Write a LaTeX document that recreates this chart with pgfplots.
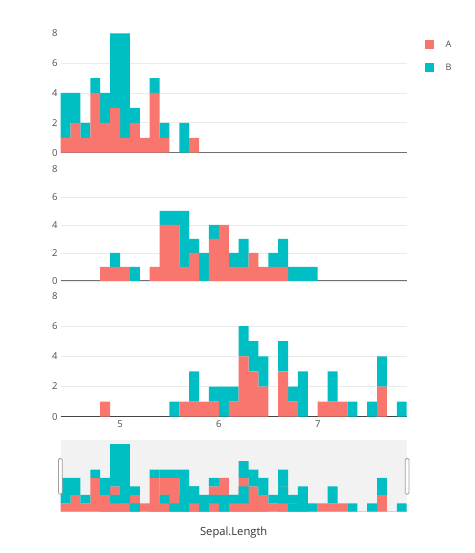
\documentclass[border=0pt]{standalone}
\usepackage{pgfplots}
\pgfplotsset{compat=1.18}
\usepackage{pgfplotstable}
\usepackage{fontspec}
\setmainfont{Open Sans}
\definecolor{cA}{HTML}{F8766D}
\definecolor{cB}{HTML}{00BFC4}
\definecolor{tickc}{HTML}{4D4D4D}
\definecolor{titlec}{HTML}{333333}
\definecolor{gridc}{HTML}{EBEBEB}
\definecolor{zeroc}{HTML}{707070}
\definecolor{zeroc3}{HTML}{444444}
\definecolor{sliderbg}{HTML}{F2F2F2}
\definecolor{handlec}{HTML}{A0A0A0}

\pgfplotstableread{
x    A1 B1 A2 B2 A3 B3
4.45 1 3 0 0 0 0
4.55 2 2 0 0 0 0
4.65 1 1 0 0 0 0
4.75 4 1 0 0 0 0
4.85 2 2 1 0 1 0
4.95 3 5 1 1 0 0
5.05 1 7 1 0 0 0
5.15 2 1 0 1 0 0
5.25 1 0 0 0 0 0
5.35 4 1 1 0 0 0
5.45 1 1 4 1 0 0
5.55 0 0 4 1 0 1
5.65 0 2 1 4 1 0
5.75 1 0 2 1 1 2
5.85 0 0 0 2 1 0
5.95 0 0 3 1 1 1
6.05 0 0 4 0 0 2
6.15 0 0 1 1 1 1
6.25 0 0 1 2 4 2
6.35 0 0 2 0 3 2
6.45 0 0 1 0 2 2
6.55 0 0 1 1 0 0
6.65 0 0 1 2 3 2
6.75 0 0 0 1 1 1
6.85 0 0 0 1 0 3
6.95 0 0 0 1 0 0
7.05 0 0 0 0 1 0
7.15 0 0 0 0 1 2
7.25 0 0 0 0 1 0
7.35 0 0 0 0 0 1
7.45 0 0 0 0 0 0
7.55 0 0 0 0 0 1
7.65 0 0 0 0 2 2
7.75 0 0 0 0 0 0
7.85 0 0 0 0 0 1
}\hist

\pgfplotsset{
  base/.style={scale only axis, width=346pt, xmin=4.4, xmax=7.9, ymin=0,
    anchor=south west, axis line style={draw=none}, major tick length=0pt,
    /pgf/number format/assume math mode=true,
    tick label style={font=\fontsize{9.5}{11}\selectfont, text=tickc},
    yticklabel style={anchor=east, inner sep=0pt, xshift=-3pt},
    xticklabel style={anchor=north, inner sep=0pt, yshift=-3.5pt},
    bar width=0.1, clip=false},
  panel/.style={base, ymax=8.4, ybar stacked, ytick={0,2,4,6}, extra y ticks={8},
    extra tick style={grid=none}, ymajorgrids=true,
    grid style={gridc, line width=0.8pt}, xtick=\empty},
  slider/.style={base, ymax=8.5, xtick=\empty, ytick=\empty, clip=true,
    at={(60.7pt,41.3pt)}, height=71.7pt},
}

\begin{document}
\begin{tikzpicture}[x=1pt,y=1pt]
\path[use as bounding box] (0,0) rectangle (474,553);

% Panel 1
\begin{axis}[panel, at={(60.7pt,400.3pt)}, height=125.4pt]
\addplot[fill=cA, draw=none] table[x=x, y=A1] {\hist};
\addplot[fill=cB, draw=none] table[x=x, y=B1] {\hist};
\draw[zeroc, line width=1pt] (axis cs:4.4,0) -- (axis cs:7.9,0);
\end{axis}

% Panel 2
\begin{axis}[panel, at={(60.7pt,272pt)}, height=117.6pt]
\addplot[fill=cA, draw=none] table[x=x, y=A2] {\hist};
\addplot[fill=cB, draw=none] table[x=x, y=B2] {\hist};
\draw[zeroc, line width=1pt] (axis cs:4.4,0) -- (axis cs:7.9,0);
\end{axis}

% Panel 3
\begin{axis}[panel, at={(60.7pt,136.3pt)}, height=126.8pt, xtick={5,6,7}]
\addplot[fill=cA, draw=none] table[x=x, y=A3] {\hist};
\addplot[fill=cB, draw=none] table[x=x, y=B3] {\hist};
\draw[zeroc3, line width=1pt] (axis cs:4.4,0) -- (axis cs:7.9,0);
\end{axis}

% Range slider: A traces first, then B traces on their own stacks
\begin{axis}[slider, ybar, axis background/.style={fill=sliderbg}]
\addplot[fill=cA, draw=none, bar shift=0pt] table[x=x, y=A1] {\hist};
\addplot[fill=cA, draw=none, bar shift=0pt] table[x=x, y=A2] {\hist};
\addplot[fill=cA, draw=none, bar shift=0pt] table[x=x, y=A3] {\hist};
\end{axis}
\begin{axis}[slider, ybar stacked]
\addplot[fill=none, draw=none] table[x=x, y=A1] {\hist};
\addplot[fill=cB, draw=none] table[x=x, y=B1] {\hist};
\end{axis}
\begin{axis}[slider, ybar stacked]
\addplot[fill=none, draw=none] table[x=x, y=A2] {\hist};
\addplot[fill=cB, draw=none] table[x=x, y=B2] {\hist};
\end{axis}
\begin{axis}[slider, ybar stacked]
\addplot[fill=none, draw=none] table[x=x, y=A3] {\hist};
\addplot[fill=cB, draw=none] table[x=x, y=B3] {\hist};
\end{axis}

% slider handles
\draw[handlec, fill=white, line width=0.8pt, rounded corners=1.5pt] (58.4,58.7) rectangle (62.2,94.7);
\draw[handlec, fill=white, line width=0.8pt, rounded corners=1.5pt] (405.2,58.7) rectangle (409.0,94.7);

% axis title
\node[anchor=base, font=\fontsize{11.2}{13}\selectfont, text=titlec, inner sep=0pt] at (233.7,17) {Sepal.Length};

% legend
\fill[cA] (425,504) rectangle (434,513);
\node[anchor=west, font=\fontsize{9}{11}\selectfont, text=tickc, inner sep=0pt] at (445.5,508.5) {A};
\fill[cB] (425,481.3) rectangle (434,490.3);
\node[anchor=west, font=\fontsize{9}{11}\selectfont, text=tickc, inner sep=0pt] at (445.5,485.8) {B};
\end{tikzpicture}
\end{document}
